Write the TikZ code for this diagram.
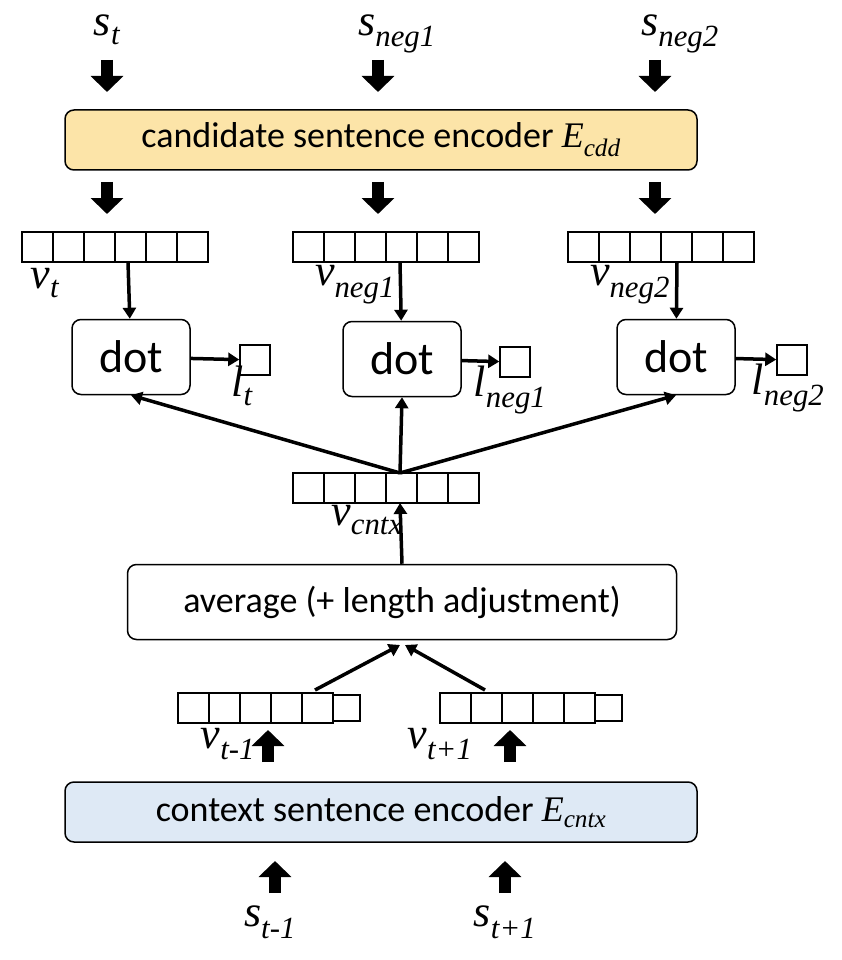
\documentclass[tikz,border=0pt]{standalone}
\usepackage{fontspec}
\setmainfont{Liberation Serif}
\newfontfamily\boxfont{Carlito}
\usetikzlibrary{arrows.meta}
% one vector of six cells: left x, top y, cell width
\newcommand{\cells}[3]
{
	\foreach \i in {0,...,5}
		\draw[line width=1.5pt] ({#1+\i*#3},#2) rectangle ({#1+(\i+1)*#3},#2+30);
}
\tikzset{
	fat/.style={line width=12pt, -{Triangle[length=16pt,width=32pt]}},
	thin/.style={line width=3.5pt, -{Triangle[length=11pt,width=13pt]}},
	enc/.style={draw, line width=1.5pt, rounded corners=9pt, minimum width=632pt, minimum height=60pt, font=\fontsize{36}{42}\selectfont\boxfont},
	op/.style={draw, line width=1.5pt, rounded corners=9pt, minimum width=118pt, minimum height=75pt, font=\fontsize{46}{52}\selectfont\boxfont},
	lbl/.style={font=\fontsize{44}{48}\selectfont\itshape, inner sep=0pt},
	sq/.style={draw, line width=1.5pt, minimum size=30pt, inner sep=0pt}
}
\begin{document}
\begin{tikzpicture}[x=1pt, y=-1pt]
	\useasboundingbox (0,0) rectangle (842,960);
	% candidate side
	\node[enc, fill={rgb,255:red,252;green,228;blue,168}] (cdd) at (381,140) {candidate sentence encoder {\rmfamily\itshape E\textsubscript{cdd}}};
	\node[lbl] (st) at (107,30) {s\textsubscript{t}};
	\node[lbl] (sn1) at (397,34) {s\textsubscript{neg1}};
	\node[lbl] (sn2) at (680,34) {s\textsubscript{neg2}};
	\foreach \x in {107,378,655} {
		\draw[fat] (\x,60) -- (\x,92);
		\draw[fat] (\x,182) -- (\x,214);
	}
	\cells{22}{232}{31}
	\cells{293}{232}{31}
	\cells{568}{232}{31}
	\node[lbl] (vt) at (45,283) {v\textsubscript{t}};
	\node[lbl] (vn1) at (355,285) {v\textsubscript{neg1}};
	\node[lbl] (vn2) at (630,285) {v\textsubscript{neg2}};
	\node[op] (d1) at (131,357) {dot};
	\node[op] (d2) at (402,359) {dot};
	\node[op] (d3) at (676,357) {dot};
	\coordinate (c1) at (128,262);
	\coordinate (c2) at (400,262);
	\coordinate (c3) at (677,262);
	\draw[thin] (c1) -- (d1);
	\draw[thin] (c2) -- (d2);
	\draw[thin] (c3) -- (d3);
	\node[sq] (o1) at (255,360) {};
	\node[sq] (o2) at (515,362) {};
	\node[sq] (o3) at (792,360) {};
	\draw[thin] (d1) -- (o1);
	\draw[thin] (d2) -- (o2);
	\draw[thin] (d3) -- (o3);
	\node[lbl] (lt) at (242,386) {l\textsubscript{t}};
	\node[lbl] (ln1) at (510,390) {l\textsubscript{neg1}};
	\node[lbl] (ln2) at (788,388) {l\textsubscript{neg2}};
	% context side
	\cells{293}{473}{31}
	\node[lbl] (vc) at (367,520) {v\textsubscript{cntx}};
	\coordinate (top) at (400,473);
	\draw[thin] (top) -- (d1.south);
	\draw[thin] (top) -- (d2.south);
	\draw[thin] (top) -- (d3.south);
	\node[enc, minimum width=549pt, minimum height=75pt] (avg) at (402,602) {average (+ length adjustment)};
	\draw[thin] (avg.north) -- (400,503);
	\foreach \i in {0,...,4}
		\draw[line width=1.5pt] ({178+\i*31},693) rectangle ({178+(\i+1)*31},723);
	\draw[line width=1.5pt] (333,695) rectangle (360,721);
	\foreach \i in {0,...,4}
		\draw[line width=1.5pt] ({440+\i*31},693) rectangle ({440+(\i+1)*31},723);
	\draw[line width=1.5pt] (595,695) rectangle (622,721);
	\coordinate (a1) at (315,690);
	\coordinate (a2) at (485,690);
	\draw[thin] (a1) -- (400,645);
	\draw[thin] (a2) -- (405,645);
	\node[lbl] (vm) at (228,744) {v\textsubscript{t-1}};
	\node[lbl] (vp) at (440,744) {v\textsubscript{t+1}};
	\draw[fat] (268,762) -- (268,730);
	\draw[fat] (510,762) -- (510,730);
	\node[enc, fill={rgb,255:red,222;green,233;blue,245}] (ctx) at (381,812) {context sentence encoder {\rmfamily\itshape E\textsubscript{cntx}}};
	\draw[fat] (275,893) -- (275,861);
	\draw[fat] (505,893) -- (505,861);
	\node[lbl] (sm) at (270,922) {s\textsubscript{t-1}};
	\node[lbl] (sp) at (505,922) {s\textsubscript{t+1}};
\end{tikzpicture}
\end{document}
